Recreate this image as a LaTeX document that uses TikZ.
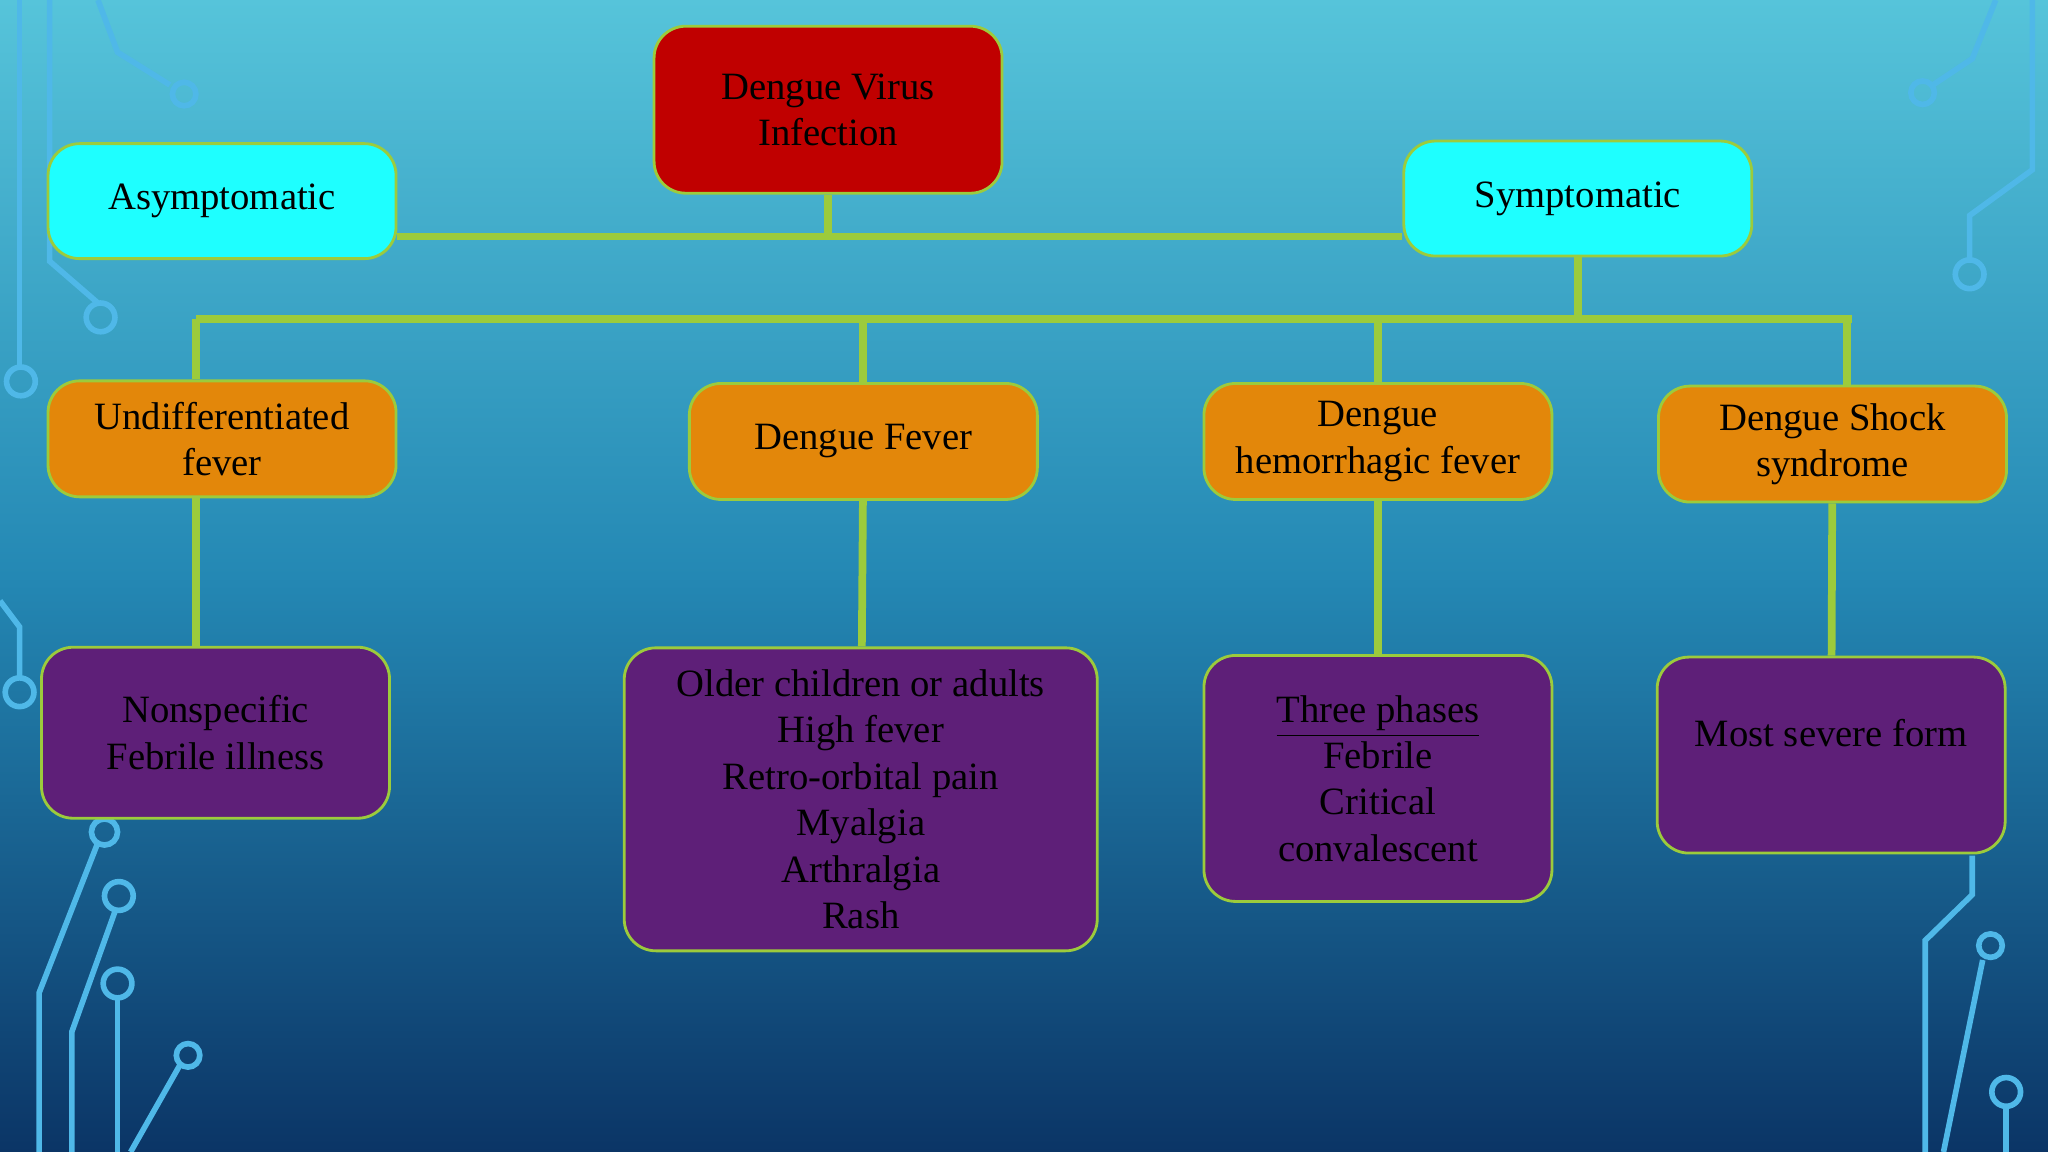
\documentclass[tikz,border=0pt]{standalone}
\usepackage{fontspec}
\setmainfont{Liberation Serif}
\usetikzlibrary{positioning}
\definecolor{lineg}{HTML}{9CCB3C}
\definecolor{rootred}{HTML}{C00000}
\definecolor{cyanbox}{HTML}{1EFFFF}
\definecolor{orangebox}{HTML}{E3870A}
\definecolor{purplebox}{HTML}{5E1F78}
\definecolor{bgtop}{HTML}{56C4DA}
\definecolor{bgmid}{HTML}{2488B4}
\definecolor{bgbot}{HTML}{0B3566}
\definecolor{trace}{HTML}{4FB8E8}
\tikzset{
  box/.style={draw=lineg, line width=0.8pt, rounded corners=9pt, align=center,
    font=\fontsize{11}{13.2}\selectfont, inner sep=2pt},
  root/.style={box, fill=rootred, minimum width=3.48cm, minimum height=1.67cm},
  level/.style={box, fill=cyanbox, minimum width=3.48cm, minimum height=1.15cm},
  kind/.style={box, fill=orangebox, minimum width=3.48cm, minimum height=1.16cm},
  info/.style={box, fill=purplebox, minimum width=3.48cm},
  link/.style={lineg, line width=2.2pt},
  wire/.style={trace, line width=1.6pt}
}
\begin{document}
\begin{tikzpicture}[x=0.013061cm, y=-0.013061cm]
    \useasboundingbox (0,0) rectangle (1568,882);
    % background
    \shade[top color=bgtop, bottom color=bgbot, middle color=bgmid] (0,0) rectangle (1568,882);
    % circuit traces
    \draw[wire] (15,0) -- (15,280); \draw[wire] (16,292) circle (11);
    \draw[wire] (38,0) -- (38,200) -- (75,232); \draw[wire] (77,243) circle (11);
    \draw[wire] (75,0) -- (90,40) -- (130,65); \draw[wire] (141,72) circle (9);
    \draw[wire] (0,460) -- (15,480) -- (15,518); \draw[wire] (15,530) circle (11);
    \draw[wire] (30,882) -- (30,760) -- (75,645); \draw[wire] (80,637) circle (10);
    \draw[wire] (55,882) -- (55,790) -- (88,698); \draw[wire] (91,686) circle (11);
    \draw[wire] (90,882) -- (90,765); \draw[wire] (90,753) circle (11);
    \draw[wire] (100,882) -- (138,815); \draw[wire] (144,808) circle (9);
    \draw[wire] (1528,0) -- (1510,45) -- (1480,65); \draw[wire] (1472,71) circle (9);
    \draw[wire] (1556,0) -- (1556,130) -- (1508,165) -- (1508,198); \draw[wire] (1508,210) circle (11);
    \draw[wire] (1474,882) -- (1474,720) -- (1510,685) -- (1510,655);
    \draw[wire] (1488,882) -- (1518,735); \draw[wire] (1524,724) circle (9);
    \draw[wire] (1536,882) -- (1536,848); \draw[wire] (1536,836) circle (11);

    % nodes
    \node[root] (virus) at (634,84) {Dengue Virus\\Infection};
    \node[level] (asym) at (170,154) {Asymptomatic};
    \node[level] (sym) at (1208,152) {Symptomatic};
    \node[kind] (udf) at (170,336) {Undifferentiated\\fever};
    \node[kind] (df) at (661,338) {Dengue Fever};
    \node[kind] (dhf) at (1055,338) {Dengue\\hemorrhagic fever};
    \node[kind] (dss) at (1403,340) {Dengue Shock\\syndrome};
    \node[info, minimum height=1.71cm] (nsf) at (165,561) {Nonspecific\\Febrile illness};
    \node[info, minimum width=4.73cm, minimum height=3.03cm] (older) at (659,612)
      {Older children or adults\\High fever\\Retro-orbital pain\\Myalgia\\Arthralgia\\Rash};
    \node[info, minimum height=2.46cm] (phases) at (1055,596)
      {\underline{Three phases}\\Febrile\\Critical\\convalescent};
    \node[info, minimum height=1.96cm, anchor=north] (severe) at (1402,502) {};
    \node[font=\fontsize{11}{13.2}\selectfont] (severetxt) at (1402,561) {Most severe form};

    % connectors
    \coordinate (top) at (634,181);
    \coordinate (bus) at (1208,244);
    \coordinate (busL) at (150,244);
    \coordinate (busR) at (1418,244);
    \draw[link] (asym.east |- top) -- (sym.west |- top);
    \draw[link] (virus) -- (top);
    \draw[link] (sym) -- (bus);
    \draw[link] (busL) -- (busR);
    \draw[link] (busL) -- (busL |- udf.north);
    \draw[link] (df.north |- bus) -- (df);
    \draw[link] (dhf.north |- bus) -- (dhf);
    \draw[link] (1414,244) -- (1414,295);
    \draw[link] (busL |- udf.south) -- (busL |- nsf.north);
    \draw[link] (df) -- (older);
    \draw[link] (dhf) -- (phases);
    \draw[link] (dss) -- (severe);
\end{tikzpicture}
\end{document}
